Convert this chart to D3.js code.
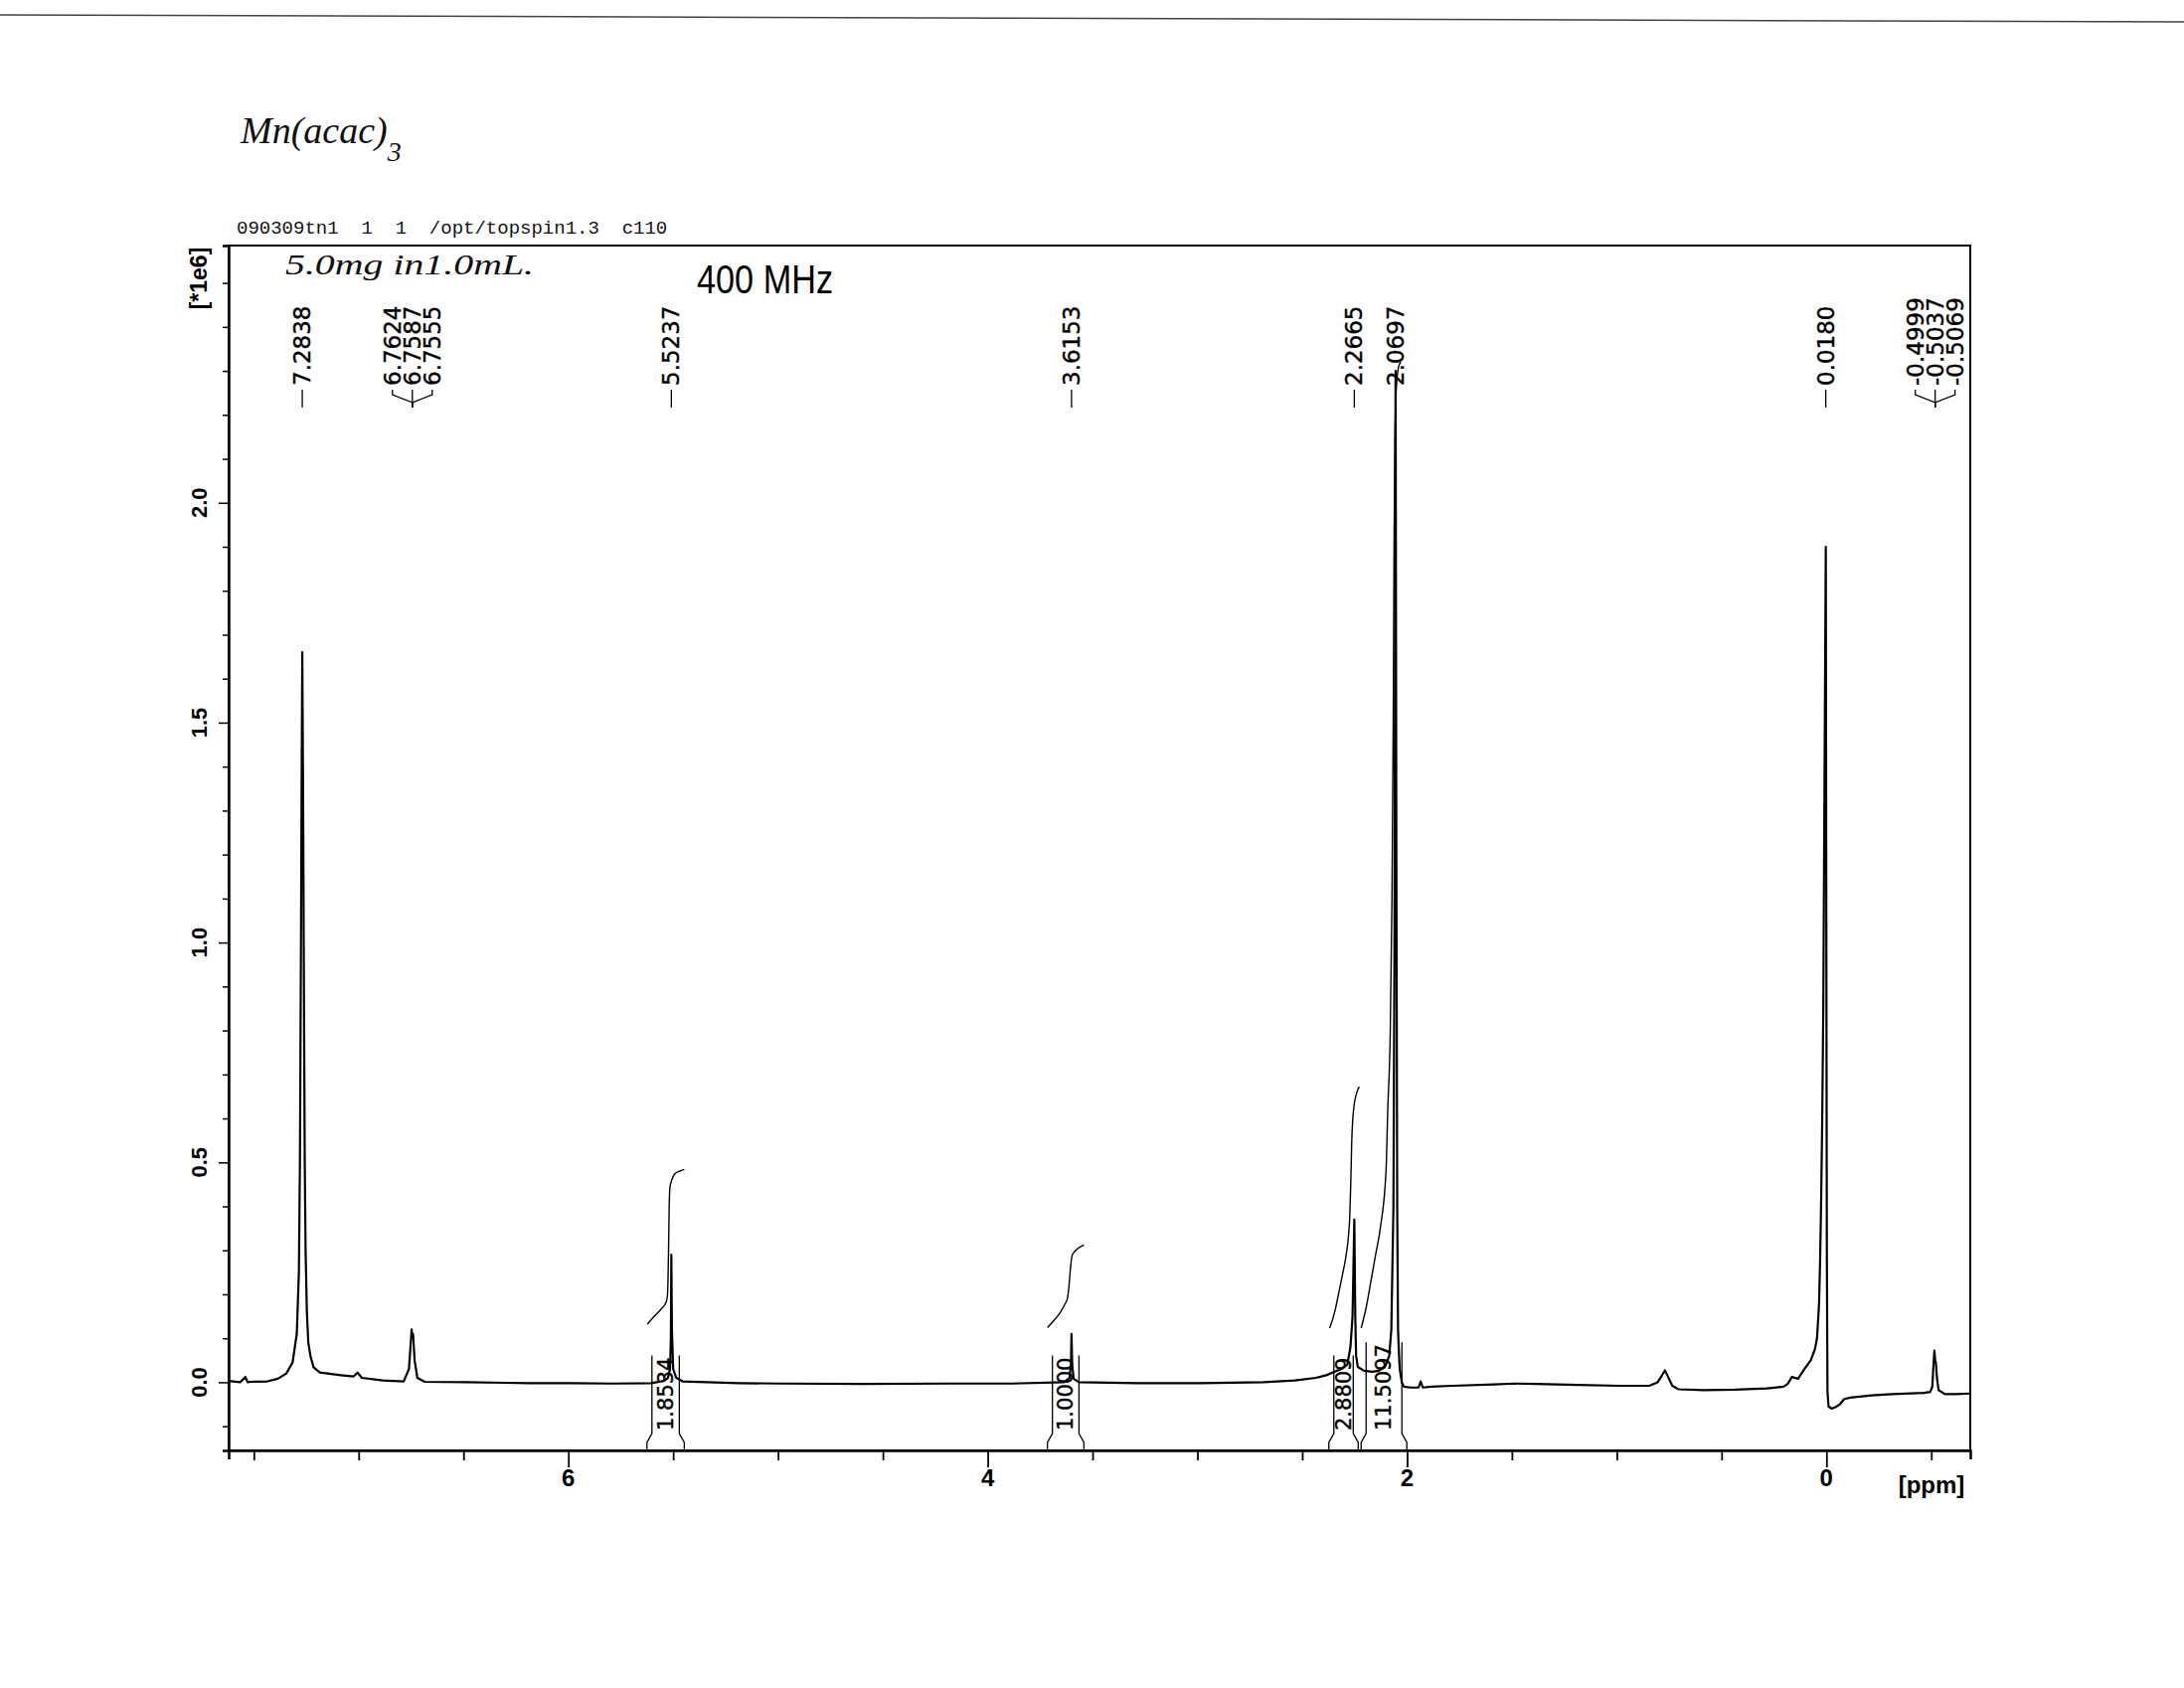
<!DOCTYPE html>
<html>
<head>
<meta charset="utf-8">
<script src="https://cdn.jsdelivr.net/npm/d3@7"></script>
<style>
  body { margin: 0; background: #fff; }
</style>
</head>
<body>
<script>
// spectrum trace: chemical shift (ppm) and intensity (*1e6)
const specPpm = [
  7.64, 7.58, 7.555, 7.545, 7.53, 7.45, 7.40, 7.36, 7.33, 7.31, 7.30, 7.295, 7.29, 7.287, 7.2838,
  7.28, 7.276, 7.272, 7.268, 7.262, 7.255, 7.245, 7.23, 7.20, 7.10, 7.04, 7.02, 7.00, 6.90, 6.80,
  6.775, 6.765, 6.7624, 6.7587, 6.7555, 6.748, 6.735, 6.70, 6.50, 6.20, 6.00, 5.80, 5.62, 5.56,
  5.54, 5.53, 5.526, 5.5237, 5.521, 5.515, 5.50, 5.47, 5.20, 5.00, 4.60, 4.20, 3.90, 3.65, 3.625,
  3.618, 3.6153, 3.612, 3.605, 3.58, 3.30, 3.00, 2.70, 2.55, 2.45, 2.40, 2.36, 2.33, 2.30, 2.285,
  2.275, 2.2665, 2.262, 2.258, 2.25, 2.22, 2.18, 2.15, 2.12, 2.10, 2.09, 2.08, 2.075, 2.0697,
  2.066, 2.062, 2.058, 2.055, 2.05, 2.04, 2.03, 2.00, 1.96, 1.95, 1.94, 1.90, 1.80, 1.60, 1.50,
  1.40, 1.20, 1.00, 0.86, 0.82, 0.80, 0.785, 0.77, 0.75, 0.72, 0.60, 0.45, 0.30, 0.22, 0.20,
  0.18, 0.15, 0.12, 0.09, 0.07, 0.06, 0.05, 0.045, 0.04, 0.035, 0.03, 0.026, 0.022, 0.018, 0.016,
  0.013, 0.010, 0.005, -0.01, -0.03, -0.05, -0.07, -0.10, -0.20, -0.30, -0.45, -0.48, -0.49,
  -0.495, -0.4999, -0.5037, -0.5069, -0.512, -0.52, -0.55, -0.60, -0.70
];
const specVal = [
  0.003, 0.000, 0.012, 0.000, 0.001, 0.002, 0.008, 0.020, 0.045, 0.110, 0.250, 0.500, 1.000, 1.350, 1.660,
  1.350, 0.900, 0.500, 0.300, 0.160, 0.090, 0.060, 0.034, 0.022, 0.016, 0.013, 0.022, 0.010, 0.004, 0.002,
  0.030, 0.100, 0.120, 0.100, 0.110, 0.050, 0.010, 0.001, 0.000, -0.002, -0.002, -0.003, -0.002, 0.003,
  0.010, 0.030, 0.100, 0.290, 0.120, 0.030, 0.010, 0.002, -0.002, -0.003, -0.004, -0.003, -0.003, 0.000, 0.010,
  0.040, 0.110, 0.040, 0.008, 0.000, -0.002, -0.002, 0.000, 0.004, 0.010, 0.016, 0.024, 0.030, 0.040, 0.080,
  0.150, 0.370, 0.150, 0.060, 0.035, 0.026, 0.024, 0.026, 0.035, 0.060, 0.120, 0.400, 1.000, 2.300,
  1.200, 0.400, 0.120, 0.080, 0.030, 0.000, -0.010, -0.012, -0.012, 0.002, -0.012, -0.010, -0.008, -0.005, -0.003,
  -0.004, -0.006, -0.008, -0.008, 0.000, 0.015, 0.027, 0.012, -0.008, -0.016, -0.018, -0.017, -0.014, -0.010, -0.004,
  0.012, 0.008, 0.030, 0.050, 0.075, 0.100, 0.180, 0.280, 0.420, 0.600, 0.850, 1.200, 1.550, 1.900, 1.200,
  0.300, -0.020, -0.055, -0.060, -0.056, -0.050, -0.038, -0.035, -0.030, -0.027, -0.024, -0.022, -0.010,
  0.035, 0.072, 0.050, 0.045, 0.010, -0.018, -0.027, -0.027, -0.025
];

// integral traces, [ppm, value on the same *1e6 scale]
const integral1 = [[5.623, 0.132], [5.59, 0.150], [5.56, 0.165], [5.533, 0.183], [5.527, 0.200], [5.522, 0.300],
  [5.519, 0.400], [5.515, 0.445], [5.505, 0.462], [5.494, 0.473], [5.47, 0.480], [5.447, 0.484]];
const integral2 = [[3.715, 0.124], [3.68, 0.143], [3.652, 0.160], [3.635, 0.175], [3.62, 0.190], [3.612, 0.220],
  [3.606, 0.255], [3.597, 0.289], [3.575, 0.302], [3.541, 0.312]];
const integral3 = [[2.369, 0.123], [2.345, 0.160], [2.328, 0.198], [2.31, 0.240], [2.291, 0.288], [2.28, 0.330],
  [2.273, 0.379], [2.268, 0.460], [2.264, 0.544], [2.255, 0.620], [2.242, 0.655], [2.228, 0.672]];
const integral4 = [[2.219, 0.123], [2.195, 0.170], [2.173, 0.228], [2.15, 0.290], [2.128, 0.349], [2.10, 0.484],
  [2.092, 0.620], [2.08, 0.800], [2.072, 1.100], [2.066, 1.500], [2.062, 1.900], [2.058, 2.150], [2.05, 2.270],
  [2.04, 2.310], [2.03, 2.320]];
const integralCurves = [integral1, integral2, integral3, integral4];

// integration regions (ppm limits) and their values
const intStart = [5.625, 3.715, 2.373, 2.219];
const intEnd = [5.447, 3.541, 2.233, 2.001];
const intLabels = ["1.8534", "1.0000", "2.8809", "11.5097"];

// picked peaks, grouped as on the printout
const peakGroups = [
  [7.2838], [6.7624, 6.7587, 6.7555], [5.5237], [3.6153],
  [2.2665], [2.0697], [0.0180], [-0.4999, -0.5037, -0.5069]
];

// axis ticks
const xTicks = d3.range(15, -2, -1).map(d => d / 2);   // 7.5 ... -0.5
const xLabelTicks = [6, 4, 2, 0];
const yTicks = d3.range(-1, 26).map(d => d / 10);       // -0.1 ... 2.5
const yLabelTicks = [0, 0.5, 1.0, 1.5, 2.0];

const W = 2197, H = 1698;
const plotL = 230, plotR = 1982, plotT = 247, plotB = 1459;
// on the printout the trace and its peak labels sit slightly right of the ppm ticks
const peakShift = 0.015;

const svg = d3.select("body").append("svg").attr("width", W).attr("height", H);

const x = d3.scaleLinear().domain([7.62, -0.686]).range([plotL, plotR]);
const y = d3.scaleLinear().domain([-0.155, 2.585]).range([plotB, plotT]);
const xp = p => x(p - peakShift);

svg.append("defs").append("clipPath").attr("id", "plotclip")
  .append("rect")
  .attr("x", plotL).attr("y", plotT - 200)
  .attr("width", plotR - plotL).attr("height", plotB - plotT + 200);

// scan line across the top of the page
svg.append("line")
  .attr("x1", 0).attr("y1", 15).attr("x2", W).attr("y2", 22)
  .attr("stroke", "#444").attr("stroke-width", 1.5);

// handwritten notes
const hand = "'Liberation Serif', serif";
const title = svg.append("text")
  .attr("x", 242).attr("y", 144)
  .attr("font-family", hand).attr("font-style", "italic")
  .attr("font-size", 38).attr("fill", "#111");
title.append("tspan").text("Mn(acac)");
title.append("tspan").attr("dy", 18).attr("font-size", 28).text("3");

svg.append("text")
  .attr("x", 287).attr("y", 276)
  .attr("font-family", hand).attr("font-style", "italic")
  .attr("font-size", 30).attr("fill", "#111")
  .attr("textLength", 250).attr("lengthAdjust", "spacingAndGlyphs")
  .text("5.0mg in1.0mL.");

// topspin header
svg.append("text")
  .attr("x", 238).attr("y", 235)
  .attr("font-family", "'Liberation Mono', monospace")
  .attr("font-size", 19).attr("fill", "#111")
  .attr("xml:space", "preserve")
  .text("090309tn1  1  1  /opt/topspin1.3  c110");

svg.append("text")
  .attr("x", 701).attr("y", 295)
  .attr("font-family", "'Liberation Sans', Arial, sans-serif")
  .attr("font-size", 40).attr("fill", "#000")
  .attr("textLength", 137).attr("lengthAdjust", "spacingAndGlyphs")
  .text("400 MHz");

// frame
svg.append("rect")
  .attr("x", plotL).attr("y", plotT)
  .attr("width", plotR - plotL).attr("height", plotB - plotT)
  .attr("fill", "none").attr("stroke", "#000").attr("stroke-width", 2);

// x axis
const xAxis = svg.append("g")
  .attr("transform", `translate(0,${plotB})`)
  .call(d3.axisBottom(x).tickValues(xTicks).tickSize(9).tickFormat(""));
xAxis.select(".domain").attr("stroke-width", 2.5);
xAxis.selectAll(".tick line")
  .attr("stroke-width", 1.8)
  .attr("y2", d => xLabelTicks.includes(d) ? 17 : 10);

svg.append("g").selectAll("text")
  .data(xLabelTicks)
  .join("text")
  .attr("x", d => x(d)).attr("y", 1495)
  .attr("text-anchor", "middle")
  .attr("font-family", "'Liberation Sans', Arial, sans-serif")
  .attr("font-weight", "bold").attr("font-size", 24)
  .text(d => d);

svg.append("text")
  .attr("x", 1943).attr("y", 1502)
  .attr("text-anchor", "middle")
  .attr("font-family", "'Liberation Sans', Arial, sans-serif")
  .attr("font-weight", "bold").attr("font-size", 24)
  .text("[ppm]");

// y axis
const yAxis = svg.append("g")
  .attr("transform", `translate(${plotL},0)`)
  .call(d3.axisLeft(y).tickValues(yTicks).tickSize(6).tickFormat(""));
yAxis.select(".domain").attr("stroke-width", 2.5);
yAxis.selectAll(".tick line")
  .attr("stroke-width", 1.5)
  .attr("x2", d => yLabelTicks.some(v => Math.abs(v - d) < 1e-9) ? -10 : -6);

svg.append("g").selectAll("text")
  .data(yLabelTicks)
  .join("text")
  .attr("transform", d => `translate(208,${y(d)}) rotate(-90)`)
  .attr("text-anchor", "middle")
  .attr("font-family", "'Liberation Sans', Arial, sans-serif")
  .attr("font-weight", "bold").attr("font-size", 22)
  .text(d => d.toFixed(1));

svg.append("text")
  .attr("transform", `translate(208,${plotT + 33}) rotate(-90)`)
  .attr("text-anchor", "middle")
  .attr("font-family", "'Liberation Sans', Arial, sans-serif")
  .attr("font-weight", "bold").attr("font-size", 23)
  .text("[*1e6]");

// spectrum
const spec = specPpm.map((p, i) => [p, specVal[i]]);
svg.append("path")
  .datum(spec)
  .attr("clip-path", "url(#plotclip)")
  .attr("fill", "none").attr("stroke", "#000")
  .attr("stroke-width", 2.2).attr("stroke-linejoin", "round")
  .attr("d", d3.line().x(d => xp(d[0])).y(d => y(d[1])));

// integral curves
svg.append("g").selectAll("path")
  .data(integralCurves)
  .join("path")
  .attr("fill", "none").attr("stroke", "#000").attr("stroke-width", 1.4)
  .attr("d", d3.line().x(d => x(d[0])).y(d => y(d[1])).curve(d3.curveMonotoneX));

// integral brackets along the bottom
const labelFont = "'DejaVu Sans', sans-serif";
const brk = svg.append("g");
intLabels.forEach((lab, i) => {
  const xl = x(intStart[i]), xr = x(intEnd[i]);
  const t = brk.append("text")
    .attr("transform", `translate(${(xl + xr) / 2},${plotB - 20}) rotate(-90)`)
    .attr("dominant-baseline", "central")
    .attr("font-family", labelFont).attr("font-size", 21)
    .attr("stroke", "#000").attr("stroke-width", 0.4)
    .text(lab);
  const len = t.node().getComputedTextLength();
  const yt = plotB - 20 - len - 2;
  brk.append("path")
    .attr("fill", "none").attr("stroke", "#000").attr("stroke-width", 1.3)
    .attr("d", `M${xl},${plotB}V${plotB - 8}L${xl + 5},${plotB - 17}V${yt}` +
               `M${xr},${plotB}V${plotB - 8}L${xr - 5},${plotB - 17}V${yt}`);
});

// peak labels along the top
const pk = svg.append("g");
const labelBase = 388, gap = 20;
peakGroups.forEach(g => {
  const px = xp(d3.mean(g));
  g.forEach((v, j) => {
    const lx = px + (j - (g.length - 1) / 2) * gap;
    pk.append("text")
      .attr("transform", `translate(${lx},${labelBase}) rotate(-90)`)
      .attr("dominant-baseline", "central")
      .attr("font-family", labelFont).attr("font-size", 23)
      .attr("stroke", "#000").attr("stroke-width", 0.4)
      .text(v.toFixed(4));
    const d = g.length === 1
      ? `M${lx},${labelBase + 4}V${labelBase + 22}`
      : `M${lx},${labelBase + 4}V${labelBase + 9}L${px},${labelBase + 17}V${labelBase + 22}`;
    pk.append("path")
      .attr("fill", "none").attr("stroke", "#000").attr("stroke-width", 1.3)
      .attr("d", d);
  });
});
</script>
</body>
</html>
